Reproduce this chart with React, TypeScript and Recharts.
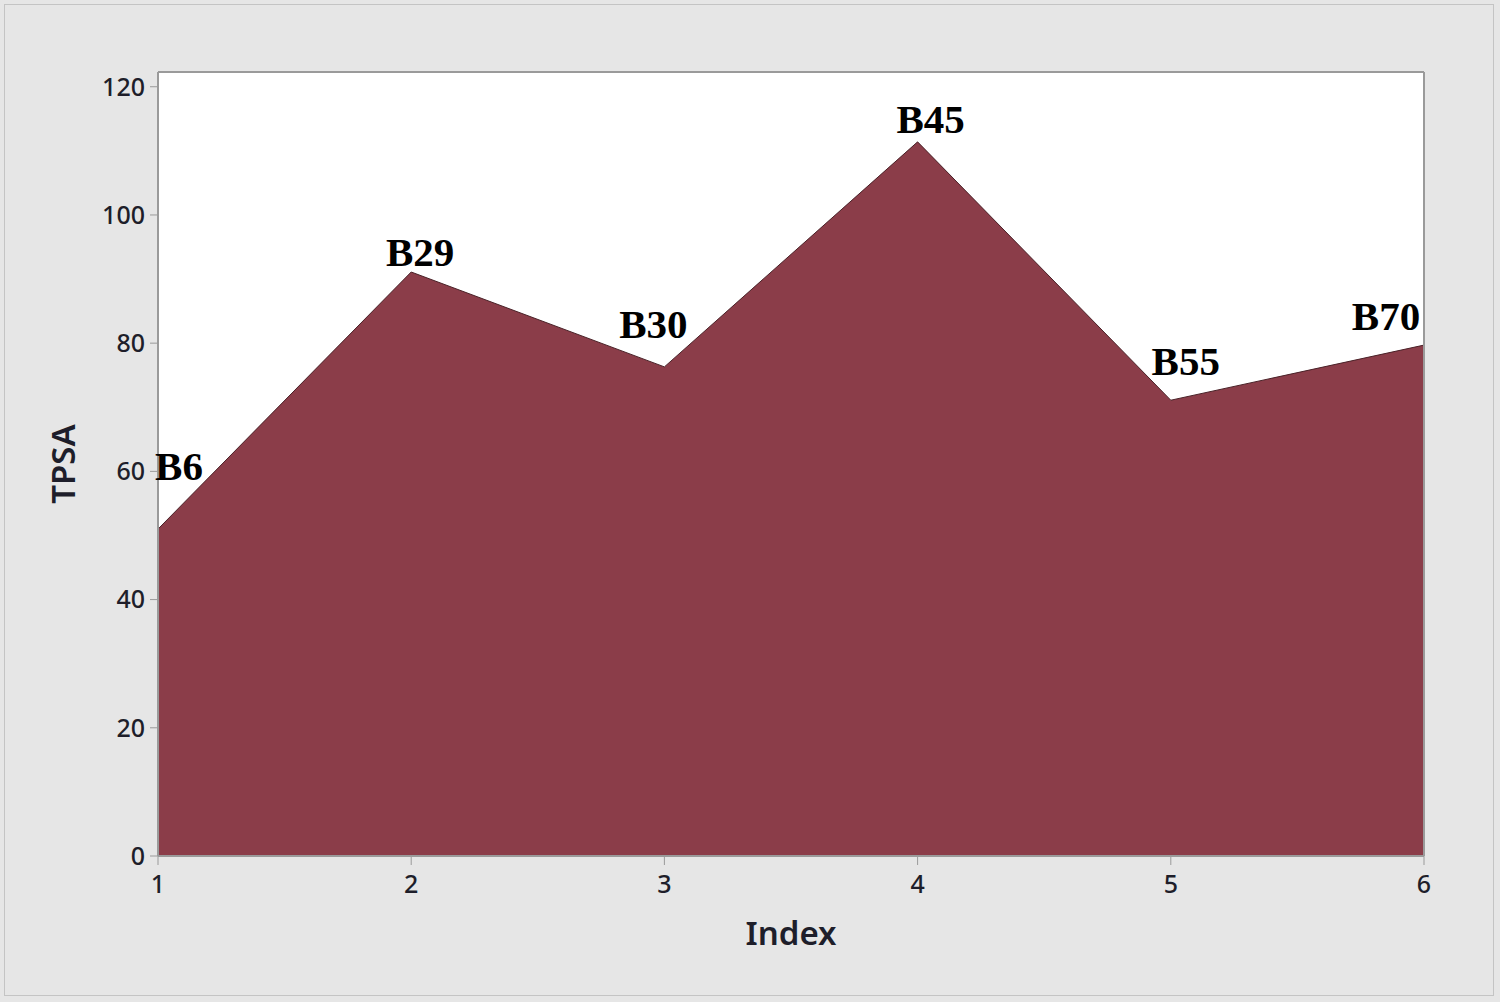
import { ComposedChart, Area, XAxis, YAxis, CartesianGrid, LabelList, ReferenceLine } from "recharts"

const indexes = [1, 2, 3, 4, 5, 6]
const compounds = ["B6", "B29", "B30", "B45", "B55", "B70"]
const tpsa = [51.0, 91.1, 76.3, 111.4, 71.1, 79.7]
const yTicks = [0, 20, 40, 60, 80, 100, 120]
const xTicks = [1, 2, 3, 4, 5, 6]
const Y_MAX = 122.3

// where Minitab put each point label, relative to its point
const LABEL_SHIFT = [
  [21, -49],
  [9, -6],
  [-11, -29],
  [13, -9],
  [15, -25],
  [-38, -15],
]

const FILL = "#8b3d49"
const FRAME = "#9a9a9a"
const TEXT = "#1e1e2a"

const data = indexes.map((x, i) => ({ x, tpsa: tpsa[i], name: compounds[i] }))

const PointLabel = (props: any) => {
  const { x, y, index, value } = props
  const [dx, dy] = LABEL_SHIFT[index] || [0, -8]
  return (
    <text
      x={x + dx}
      y={y + dy}
      textAnchor="middle"
      fontFamily="'Liberation Serif', 'Times New Roman', serif"
      fontWeight="bold"
      fontSize={41}
      fill="#000"
    >
      {value}
    </text>
  )
}

const tickStyle = { fontFamily: "'Noto Sans', sans-serif", fontSize: 25, fontWeight: 500, fill: TEXT }
const titleStyle = { fontFamily: "'Noto Sans', sans-serif", fontSize: 33, fontWeight: 600, fill: TEXT }

export default function App() {
  return (
    <div style={{ position: "absolute", left: 0, top: 0, width: 1500, height: 1002, background: "#e6e6e6" }}>
      <div
        style={{
          position: "absolute",
          left: 4,
          top: 4,
          width: 1490,
          height: 992,
          border: "1px solid #c4c4c4",
          boxSizing: "border-box",
        }}
      />
      <div style={{ position: "absolute", left: 0, top: 0 }}>
        <ComposedChart
          width={1500}
          height={1002}
          data={data}
          margin={{ top: 72, right: 76, bottom: 70, left: 98 }}
        >
          <CartesianGrid fill="#fff" horizontal={false} vertical={false} />
          <XAxis
            dataKey="x"
            type="number"
            domain={[1, 6]}
            ticks={xTicks}
            height={76}
            tick={tickStyle}
            tickLine={{ stroke: FRAME }}
            axisLine={{ stroke: FRAME, strokeWidth: 2 }}
            tickSize={9}
            tickMargin={10}
            label={{ value: "Index", position: "insideBottom", offset: -13, style: titleStyle }}
          />
          <YAxis
            type="number"
            domain={[0, Y_MAX]}
            ticks={yTicks}
            width={60}
            tick={tickStyle}
            tickLine={{ stroke: FRAME }}
            axisLine={{ stroke: FRAME, strokeWidth: 2 }}
            tickSize={8}
            tickMargin={5}
            label={{
              value: "TPSA",
              angle: -90,
              position: "insideLeft",
              offset: -35,
              style: { ...titleStyle, textAnchor: "middle" },
            }}
          />
          <Area
            type="linear"
            dataKey="tpsa"
            fill={FILL}
            fillOpacity={1}
            stroke="#4a2228"
            strokeWidth={1}
            dot={false}
            activeDot={false}
            isAnimationActive={false}
          >
            <LabelList dataKey="name" content={<PointLabel />} />
          </Area>
          <ReferenceLine y={Y_MAX} stroke={FRAME} strokeWidth={2} />
          <ReferenceLine x={6} stroke={FRAME} strokeWidth={2} />
        </ComposedChart>
      </div>
    </div>
  )
}
